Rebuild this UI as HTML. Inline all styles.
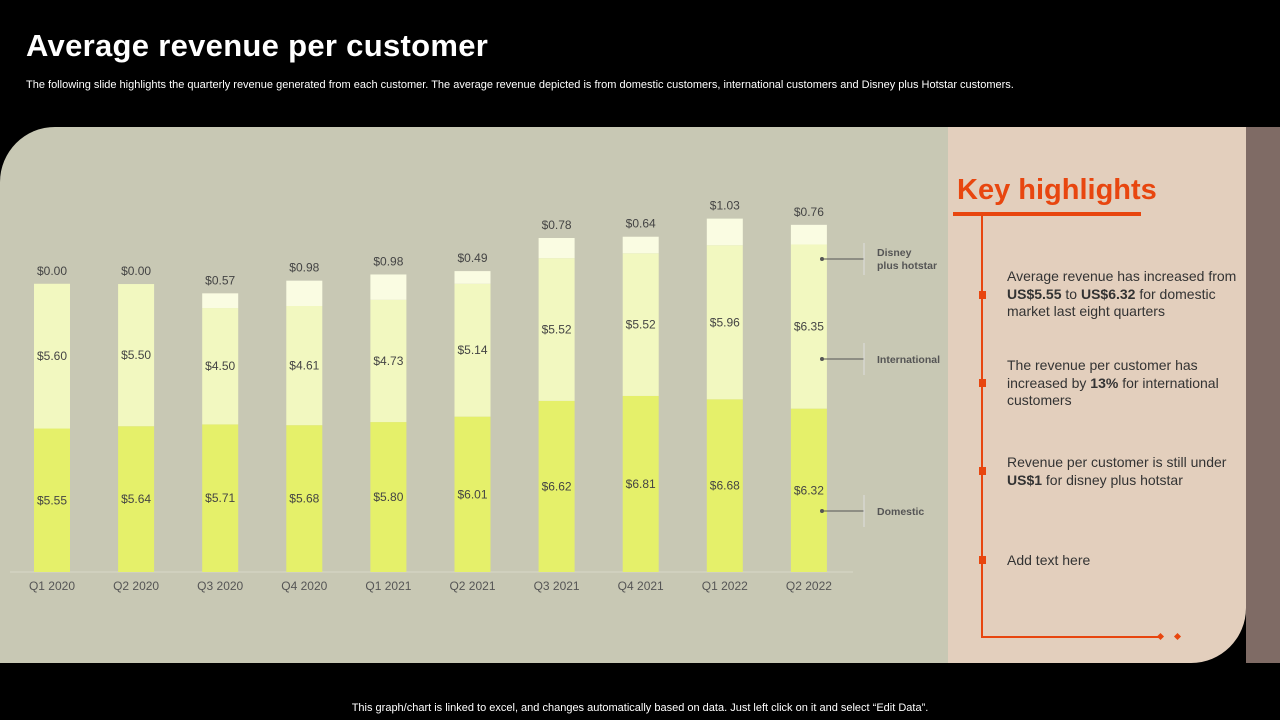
<!DOCTYPE html>
<html><head><meta charset="utf-8"><style>
body{margin:0;width:1280px;height:720px;background:#000;position:relative;overflow:hidden;font-family:"Liberation Sans",sans-serif}
.abs{position:absolute}
</style></head><body>
<div class="abs" style="left:26px;top:28px;font-size:31px;color:#fff;font-weight:bold;letter-spacing:0.3px">Average revenue per customer</div>
<div class="abs" style="left:26px;top:79px;font-size:11px;color:#fff">The following slide highlights the quarterly revenue generated from each customer. The average revenue depicted is from domestic customers, international customers and Disney plus Hotstar customers.</div>
<div class="abs" style="left:0;top:127px;width:948px;height:536px;background:#c8c8b4;border-top-left-radius:55px"></div>
<div class="abs" style="left:1246px;top:127px;width:34px;height:536px;background:#7f6b65"></div>
<div class="abs" style="left:948px;top:127px;width:298px;height:536px;background:#e3cfbd;border-bottom-right-radius:55px"></div>
<svg class="abs" style="left:0;top:0" width="1280" height="720" id="chart" font-family="Liberation Sans, sans-serif"></svg>
<div class="abs" style="left:957px;top:174px;font-size:29px;color:#e8460f;font-weight:bold">Key highlights</div>
<div class="abs" style="left:953px;top:212px;width:188px;height:4px;background:#e8460f"></div>
<div class="abs" style="left:981px;top:216px;width:1.5px;height:421px;background:#e8460f"></div>
<div class="abs" style="left:981px;top:636px;width:178px;height:1.5px;background:#e8460f"></div>
<div class="abs" style="left:1158px;top:634px;width:5px;height:5px;background:#e8460f;transform:rotate(45deg)"></div>
<div class="abs" style="left:1175px;top:634px;width:5px;height:5px;background:#e8460f;transform:rotate(45deg)"></div>
<div class="abs" style="left:1007px;top:268px;font-size:14px;color:#333;line-height:17.5px;width:250px">Average revenue has increased from <b>US$5.55</b> to <b>US$6.32</b> for domestic market last eight quarters</div>
<div class="abs" style="left:1007px;top:357px;font-size:14px;color:#333;line-height:17.5px;width:240px">The revenue per customer has increased by <b>13%</b> for international customers</div>
<div class="abs" style="left:1007px;top:454px;font-size:14px;color:#333;line-height:17.5px;width:240px">Revenue per customer is still under <b>US$1</b> for disney plus hotstar</div>
<div class="abs" style="left:1007px;top:552px;font-size:14px;color:#333">Add text here</div>
<div class="abs" style="left:979px;top:291px;width:7px;height:8px;background:#e8460f"></div>
<div class="abs" style="left:979px;top:379px;width:7px;height:8px;background:#e8460f"></div>
<div class="abs" style="left:979px;top:467px;width:7px;height:8px;background:#e8460f"></div>
<div class="abs" style="left:979px;top:556px;width:7px;height:8px;background:#e8460f"></div>
<div class="abs" style="left:0;width:1280px;top:702px;text-align:center;font-size:11px;color:#fff">This graph/chart is linked to excel,  and changes automatically based on data. Just left click on it and select “Edit Data”.</div>
<script>
const categories=["Q1 2020","Q2 2020","Q3 2020","Q4 2020","Q1 2021","Q2 2021","Q3 2021","Q4 2021","Q1 2022","Q2 2022"];
const domestic=[5.55,5.64,5.71,5.68,5.80,6.01,6.62,6.81,6.68,6.32];
const international=[5.60,5.50,4.50,4.61,4.73,5.14,5.52,5.52,5.96,6.35];
const disney=[0.00,0.00,0.57,0.98,0.98,0.49,0.78,0.64,1.03,0.76];
const svg=document.getElementById('chart');const NS='http://www.w3.org/2000/svg';
const base=572,k=25.85,x0=52,step=84.1,bw=36;
const y=v=>base-v*k, xc=i=>x0+i*step;
function mk(t,a,parent){const e=document.createElementNS(NS,t);for(const n in a)e.setAttribute(n,a[n]);(parent||svg).appendChild(e);return e;}
const ax=mk('line',{x1:10,x2:853,y1:base,y2:base,stroke:'#d8d8c8','stroke-width':1});


const fmt=v=>'$'+v.toFixed(2);
categories.forEach((c,i)=>{
 const x=xc(i)-bw/2;
 const d=domestic[i],n=international[i],s=disney[i];
 const r1=mk('rect',{x:x,y:y(d),width:bw,height:d*k,fill:'#e5f06a'});
 
 
 const r2=mk('rect',{x:x,y:y(d+n),width:bw,height:n*k,fill:'#f2f8c0'});
 
 
 const r3=mk('rect',{x:x,y:y(d+n+s),width:bw,height:s*k,fill:'#fafce2'});
 
 
 const t1=mk('text',{x:xc(i),y:y(d/2)+4,'text-anchor':'middle','font-size':12,fill:'#444'});t1.textContent=fmt(d);
 
 
 const t2=mk('text',{x:xc(i),y:y(d+n/2)+4,'text-anchor':'middle','font-size':12,fill:'#444'});t2.textContent=fmt(n);
 
 
 const t3=mk('text',{x:xc(i),y:y(d+n+s)-9,'text-anchor':'middle','font-size':12,fill:'#444'});t3.textContent=fmt(s);
 
 
 const t4=mk('text',{x:xc(i),y:base+18,'text-anchor':'middle','font-size':12,fill:'#555'});t4.textContent=c;
 
 
});
const legend=[["Disney","plus hotstar",259],["International","",359],["Domestic","",511]];
legend.forEach(l=>{
 const g=mk('g',{});
 
 
 mk('circle',{cx:822,cy:l[2],r:2,fill:'#555'},g);
 mk('line',{x1:822,x2:864,y1:l[2],y2:l[2],stroke:'#555'},g);
 mk('line',{x1:864,x2:864,y1:l[2]-16,y2:l[2]+16,stroke:'#dedede'},g);
 const t=mk('text',{x:877,y:l[1]?l[2]-3:l[2]+4,'font-size':10.5,'font-weight':'bold',fill:'#555'},g);t.textContent=l[0];
 if(l[1]){const t2=mk('text',{x:877,y:l[2]+10,'font-size':10.5,'font-weight':'bold',fill:'#555'},g);t2.textContent=l[1];}
});
</script>
</body></html>
